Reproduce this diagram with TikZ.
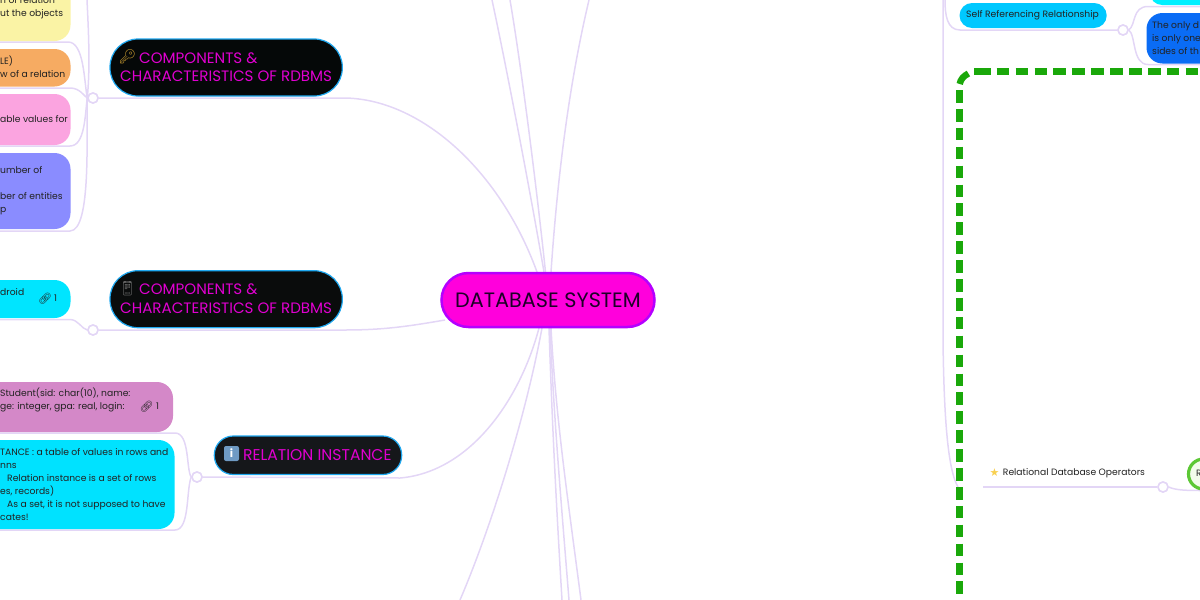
\documentclass[tikz,border=0pt]{standalone}
\usepackage{fontspec}
\setmainfont{Poppins}
\newfontfamily\emojifont{Noto Emoji}
\newfontfamily\symfont{DejaVu Sans}
\definecolor{linec}{HTML}{E3D6F6}
\definecolor{magt}{HTML}{E000D0}
\definecolor{topicedge}{HTML}{1FA8F0}
\definecolor{greenedge}{HTML}{1AA80A}
\definecolor{inkc}{HTML}{222222}
\tikzset{
  x=1pt,y=-1pt,
  conn/.style={linec,line width=1.5pt},
  dot/.style={circle,draw=linec,fill=white,line width=1.5pt,minimum size=10pt,inner sep=0pt},
  topic/.style={draw=topicedge,line width=1.2pt,rounded corners=28pt},
  ttext/.style={text=magt,font=\fontsize{15.1}{18.5}\selectfont,align=left,inner sep=0pt,anchor=west},
  small/.style={font=\fontsize{9.2}{12.9}\selectfont,align=left,inner sep=0pt,anchor=west,text=inkc},
  greendash/.style={greenedge,line width=6.5pt},
  iconmark/.style={inner sep=0pt,font=\emojifont\fontsize{14}{14}\selectfont},
  linkmark/.style={inner sep=0pt,font=\emojifont\fontsize{11}{11}\selectfont,text=inkc},
}
\begin{document}
\begin{tikzpicture}
\useasboundingbox (0,0) rectangle (1200,600);
\node[dot] (d1) at (93,98) {};
\node[dot] (d2) at (93,330) {};
\node[dot] (d3) at (197,477) {};
\node[dot] (d4) at (1123,30) {};
\node[dot] (d5) at (1163,487) {};
\coordinate (rA) at (537,272);
\coordinate (rB) at (544,272);
\coordinate (rC) at (545.5,272);
\coordinate (rD) at (551,272);
% connectors from root
\draw[conn] (d1.east) -- (343,98) .. controls (420,98) and (500,170) .. (rA);
\draw[conn] (d2.east) -- (345,330) .. controls (385,330) and (410,326) .. (445,320);
\draw[conn] (d3.east) -- (400,478) .. controls (470,472) and (520,400) .. (539,328);
\draw[conn] (492,0) .. controls (505,60) and (530,190) .. (rB);
\draw[conn] (510,0) .. controls (522,70) and (538,200) .. (rC);
\draw[conn] (589,0) .. controls (570,80) and (558,170) .. (rD);
\draw[conn] (460,600) .. controls (490,530) and (525,420) .. (542,328);
\draw[conn] (562,600) .. controls (556,500) and (552,420) .. (549,328);
\draw[conn] (569,600) .. controls (561,500) and (554,420) .. (550,328);
\draw[conn] (581,600) .. controls (568,500) and (556,420) .. (551,328);
\draw[conn] (943,0) -- (943,340) .. controls (944,420) and (948,470) .. (958,487);
\draw[conn] (983,487) -- (d5.west);
\draw[conn] (d5.east) .. controls (1175,490) and (1185,490.5) .. (1200,490.5);
% left branches
\draw[conn] (87,0) .. controls (89,40) and (90,70) .. (d1.west);
\draw[conn] (0,42) -- (68,42) .. controls (84,42) and (84,80) .. (d1.west);
\draw[conn] (0,88) -- (70,88) .. controls (80,88) and (84,96) .. (d1.west);
\draw[conn] (0,146) -- (70,146) .. controls (85,146) and (85,115) .. (d1.west);
\draw[conn] (0,231) -- (70,231) .. controls (92,231) and (86,130) .. (d1.west);
\draw[conn] (0,319.5) -- (70,319.5) .. controls (78,319.5) and (82,329) .. (d2.west);
\draw[conn] (0,433) -- (175,433) .. controls (190,433) and (186,470) .. (d3.west);
\draw[conn] (0,530) -- (175,530) .. controls (190,530) and (186,490) .. (d3.west);
\draw[conn] (945,0) .. controls (945,15) and (947,30) .. (960,30) -- (d4.west);
\draw[conn] (1200,6.5) -- (1148,6.5) .. controls (1132,6.5) and (1136,25) .. (d4.east);
\draw[conn] (1200,64.5) -- (1148,64.5) .. controls (1132,64.5) and (1136,35) .. (d4.east);
\node[dot] at (93,98) {};
\node[dot] at (93,330) {};
\node[dot] at (197,477) {};
\node[dot] at (1123,30) {};
\node[dot] at (1163,487) {};
% left boxes
\fill[fill={rgb,255:red,250;green,243;blue,165},rounded corners=16pt] (-30,-30) rectangle (70.5,41);
\node[small] (a1) at (0,7.5) {n of relation\\ut the objects};
\fill[fill={rgb,255:red,246;green,171;blue,98},rounded corners=16pt] (-30,49) rectangle (70.5,86.5);
\node[small] (a2) at (0,67) {LE)\\w of a relation};
\fill[fill={rgb,255:red,251;green,164;blue,224},rounded corners=16pt] (-30,94) rectangle (70.5,145);
\node[small] (a3) at (0,119) {able values for};
\fill[fill={rgb,255:red,138;green,140;blue,255},rounded corners=16pt] (-30,153) rectangle (70.5,229);
\node[small] (a4) at (0,190.5) {umber of\\[12.9pt]ber of entities\\p};
\fill[fill={rgb,255:red,0;green,229;blue,255},rounded corners=16pt] (-30,280) rectangle (70.5,318);
\node[small] (a5) at (0,292) {droid};
\node[linkmark] (a5l) at (45,298.5) {\char"1F517};
\node[small] (a5n) at (54,298.5) {1};
\fill[fill={rgb,255:red,212;green,136;blue,200},rounded corners=16pt] (-30,382) rectangle (173,432);
\node[small] (a6) at (0,400) {Student(sid: char(10), name:\\ge: integer, gpa: real, login:};
\node[linkmark] (a6l) at (146.5,406.5) {\char"1F517};
\node[small] (a6n) at (156,406.5) {1};
\fill[fill={rgb,255:red,0;green,226;blue,255},rounded corners=16pt] (-30,440) rectangle (174.5,529);
\node[small] (a7) at (0,484.5) {TANCE : a table of values in rows and\\nns\\\hspace*{7pt}Relation instance is a set of rows\\es, records)\\\hspace*{7pt}As a set, it is not supposed to have\\cates!};
% topics
\path[topic,fill={rgb,255:red,5;green,8;blue,8}] (110,39) rectangle (342.3,96);
\node[iconmark,text={rgb,255:red,200;green,154;blue,48}] (k1) at (127.5,57) {\char"1F511};
\node[ttext] (t1) at (120,67) {\hspace*{19pt}COMPONENTS \&\\CHARACTERISTICS OF RDBMS};
\path[topic,fill={rgb,255:red,10;green,12;blue,12}] (110,270.7) rectangle (342.3,327.7);
\node[iconmark,text={rgb,255:red,110;green,110;blue,110}] (k2) at (127.5,289) {\char"1F4F1};
\node[ttext] (t2) at (120,298.5) {\hspace*{19pt}COMPONENTS \&\\CHARACTERISTICS OF RDBMS};
\path[topic,rounded corners=19pt,fill={rgb,255:red,21;green,23;blue,26}] (214.3,436) rectangle (401.7,474.5);
\fill[fill={rgb,255:red,111;green,154;blue,196},rounded corners=2pt] (224,446) rectangle (239,461);
\node[inner sep=0pt,text=white,font=\bfseries\fontsize{11}{11}\selectfont] (k3) at (231.5,453.5) {i};
\node[ttext,font=\fontsize{15.6}{18.5}\selectfont] (t3) at (243,455) {RELATION INSTANCE};
% root
\node[fill={rgb,255:red,255;green,0;blue,220},draw={rgb,255:red,180;green,0;blue,255},line width=2.5pt,rounded corners=27pt,minimum width=213pt,minimum height=54pt,inner sep=0pt,text={rgb,255:red,30;green,0;blue,40},font=\fontsize{20.8}{24}\selectfont] (rootn) at (548,300) {DATABASE SYSTEM};
% right
\fill[fill={rgb,255:red,0;green,200;blue,255},rounded corners=12.5pt] (959.5,3) rectangle (1106.7,28);
\node[small] (r1) at (966,15) {Self Referencing Relationship};
\fill[fill={rgb,255:red,10;green,108;blue,245},rounded corners=16pt] (1146.5,13) rectangle (1230,63.5);
\node[small] (r2) at (1152,38.5) {The only d\\is only one\\sides of th};
\fill[fill={rgb,255:red,0;green,240;blue,255},rounded corners=12pt] (1150,-30) rectangle (1230,5);
% dashed frame
\draw[greendash,dash pattern=on 12.6pt off 6.3pt] (996.7,71.3) -- (1200,71.3);
\draw[greendash] (974,71.3) -- (990.7,71.3);
\draw[greendash] (959.7,84) .. controls (960.5,79.5) and (963.5,76) .. (968.4,73.5);
\draw[greendash,dash pattern=on 12.6pt off 6.3pt] (959.5,90) -- (959.5,600);
\node[inner sep=0pt,text={rgb,255:red,248;green,208;blue,80},font=\symfont\fontsize{11}{11}\selectfont] (s5) at (994.5,473) {★};
\node[small] (r3) at (1002.7,473) {Relational Database Operators};
\draw[fill={rgb,255:red,242;green,252;blue,235},draw={rgb,255:red,92;green,200;blue,53},line width=3.2pt,rounded corners=15pt] (1188.5,459) rectangle (1240,489);
\node[small] (r4) at (1196,473.5) {R};
\end{tikzpicture}
\end{document}
